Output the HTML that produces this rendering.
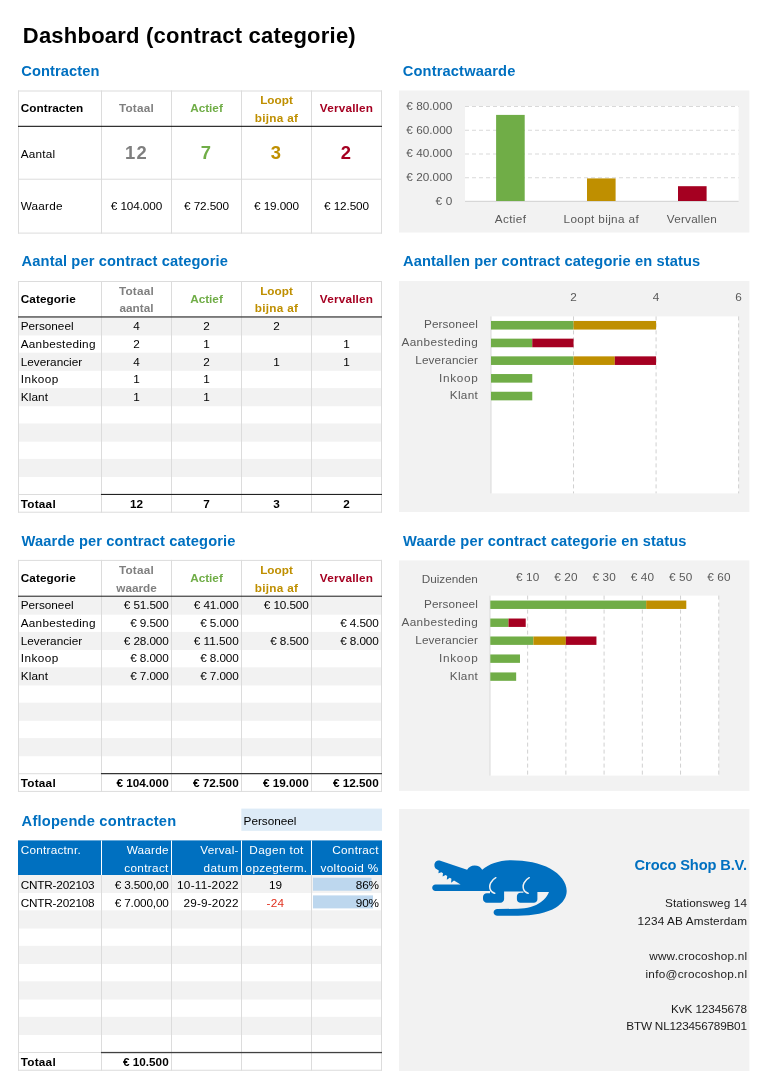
<!DOCTYPE html>
<html lang="nl"><head><meta charset="utf-8"><title>Dashboard (contract categorie)</title><style>
html,body{margin:0;padding:0;background:#fff}
body{width:768px;height:1089px;position:relative;overflow:hidden;font-family:"Liberation Sans",sans-serif}
.t{position:absolute;white-space:nowrap;margin:0;padding:0;font-weight:normal}
svg{position:absolute;left:0;top:0}
svg text{font-family:"Liberation Sans",sans-serif}
</style></head><body>
<svg width="768" height="1089" viewBox="0 0 768 1089">
<g class="grid">
<rect x="18" y="90.5" width="364" height="1" fill="#DCDCDC"/>
<rect x="18" y="178.7" width="364" height="1" fill="#DCDCDC"/>
<rect x="18" y="232.6" width="364" height="1" fill="#DCDCDC"/>
<rect x="18" y="90.5" width="1" height="143.1" fill="#DCDCDC"/>
<rect x="101" y="90.5" width="1" height="143.1" fill="#DCDCDC"/>
<rect x="171" y="90.5" width="1" height="143.1" fill="#DCDCDC"/>
<rect x="241" y="90.5" width="1" height="143.1" fill="#DCDCDC"/>
<rect x="311" y="90.5" width="1" height="143.1" fill="#DCDCDC"/>
<rect x="381" y="90.5" width="1" height="143.1" fill="#DCDCDC"/>
<rect x="18" y="125.8" width="364" height="1" fill="#000"/>
<rect x="19" y="317.3" width="362" height="18.15" fill="#F2F2F2"/>
<rect x="19" y="352.7" width="362" height="18.15" fill="#F2F2F2"/>
<rect x="19" y="388.1" width="362" height="18.15" fill="#F2F2F2"/>
<rect x="19" y="423.5" width="362" height="18.15" fill="#F2F2F2"/>
<rect x="19" y="458.9" width="362" height="18.15" fill="#F2F2F2"/>
<rect x="18" y="281" width="364" height="1" fill="#DCDCDC"/>
<rect x="18" y="511.7" width="364" height="1" fill="#DCDCDC"/>
<rect x="18" y="494" width="364" height="1" fill="#DCDCDC"/>
<rect x="18" y="281" width="1" height="231.7" fill="#DCDCDC"/>
<rect x="101" y="281" width="1" height="231.7" fill="#DCDCDC"/>
<rect x="171" y="281" width="1" height="231.7" fill="#DCDCDC"/>
<rect x="241" y="281" width="1" height="231.7" fill="#DCDCDC"/>
<rect x="311" y="281" width="1" height="231.7" fill="#DCDCDC"/>
<rect x="381" y="281" width="1" height="231.7" fill="#DCDCDC"/>
<rect x="18" y="316.3" width="364" height="1.3" fill="#404040"/>
<rect x="101" y="493.9" width="281" height="1.1" fill="#222"/>
<rect x="19" y="596.5" width="362" height="18.15" fill="#F2F2F2"/>
<rect x="19" y="631.9" width="362" height="18.15" fill="#F2F2F2"/>
<rect x="19" y="667.3" width="362" height="18.15" fill="#F2F2F2"/>
<rect x="19" y="702.7" width="362" height="18.15" fill="#F2F2F2"/>
<rect x="19" y="738.1" width="362" height="18.15" fill="#F2F2F2"/>
<rect x="18" y="559.9" width="364" height="1" fill="#DCDCDC"/>
<rect x="18" y="790.9" width="364" height="1" fill="#DCDCDC"/>
<rect x="18" y="773.2" width="364" height="1" fill="#DCDCDC"/>
<rect x="18" y="559.9" width="1" height="232" fill="#DCDCDC"/>
<rect x="101" y="559.9" width="1" height="232" fill="#DCDCDC"/>
<rect x="171" y="559.9" width="1" height="232" fill="#DCDCDC"/>
<rect x="241" y="559.9" width="1" height="232" fill="#DCDCDC"/>
<rect x="311" y="559.9" width="1" height="232" fill="#DCDCDC"/>
<rect x="381" y="559.9" width="1" height="232" fill="#DCDCDC"/>
<rect x="18" y="595.7" width="364" height="1" fill="#1a1a1a"/>
<rect x="101" y="773.1" width="281" height="1.1" fill="#222"/>
<rect x="241.3" y="808.6" width="140.7" height="22.2" fill="#DDEBF7"/>
<rect x="19" y="874.8" width="362" height="18.2" fill="#F2F2F2"/>
<rect x="19" y="910.3" width="362" height="18.2" fill="#F2F2F2"/>
<rect x="19" y="945.8" width="362" height="18.2" fill="#F2F2F2"/>
<rect x="19" y="981.3" width="362" height="18.2" fill="#F2F2F2"/>
<rect x="19" y="1016.8" width="362" height="18.2" fill="#F2F2F2"/>
<rect x="18" y="1069.75" width="364" height="1" fill="#DCDCDC"/>
<rect x="18" y="1052" width="364" height="1" fill="#DCDCDC"/>
<rect x="18" y="840.4" width="1" height="230.35" fill="#DCDCDC"/>
<rect x="101" y="840.4" width="1" height="230.35" fill="#DCDCDC"/>
<rect x="171" y="840.4" width="1" height="230.35" fill="#DCDCDC"/>
<rect x="241" y="840.4" width="1" height="230.35" fill="#DCDCDC"/>
<rect x="311" y="840.4" width="1" height="230.35" fill="#DCDCDC"/>
<rect x="381" y="840.4" width="1" height="230.35" fill="#DCDCDC"/>
<rect x="18" y="840.4" width="364" height="34.6" fill="#0070C0"/>
<rect x="101" y="840.4" width="1" height="34.6" fill="#FFFFFF"/>
<rect x="171" y="840.4" width="1" height="34.6" fill="#FFFFFF"/>
<rect x="241" y="840.4" width="1" height="34.6" fill="#FFFFFF"/>
<rect x="311" y="840.4" width="1" height="34.6" fill="#FFFFFF"/>
<rect x="101" y="1051.9" width="281" height="1.3" fill="#404040"/>
<rect x="313" y="877.7" width="58.5" height="13" fill="#BDD7EE"/>
<rect x="313" y="895.4" width="60" height="13" fill="#BDD7EE"/>
</g>
<g class="chart1">
<rect x="399" y="90.5" width="350.4" height="142" fill="#F2F2F2"/>
<rect x="465" y="106" width="273.6" height="95" fill="#fff"/>
<line x1="465" x2="738.6" y1="106.5" y2="106.5" stroke="#D9D9D9" stroke-width="1" stroke-dasharray="4 3"/>
<line x1="465" x2="738.6" y1="130.25" y2="130.25" stroke="#D9D9D9" stroke-width="1" stroke-dasharray="4 3"/>
<line x1="465" x2="738.6" y1="154" y2="154" stroke="#D9D9D9" stroke-width="1" stroke-dasharray="4 3"/>
<line x1="465" x2="738.6" y1="177.75" y2="177.75" stroke="#D9D9D9" stroke-width="1" stroke-dasharray="4 3"/>
<line x1="465" x2="738.6" y1="201.3" y2="201.3" stroke="#D0D0D0" stroke-width="1"/>
<rect x="496.1" y="114.9" width="28.6" height="86.1" fill="#70AD47"/>
<rect x="587" y="178.4" width="28.6" height="22.6" fill="#BF8F00"/>
<rect x="678" y="186.2" width="28.6" height="14.8" fill="#A50021"/>
<text x="452.3" y="109.8" text-anchor="end" font-size="11.75" fill="#595959" textLength="46.0" lengthAdjust="spacing">€ 80.000</text>
<text x="452.3" y="133.55" text-anchor="end" font-size="11.75" fill="#595959" textLength="46.0" lengthAdjust="spacing">€ 60.000</text>
<text x="452.3" y="157.3" text-anchor="end" font-size="11.75" fill="#595959" textLength="46.0" lengthAdjust="spacing">€ 40.000</text>
<text x="452.3" y="181.05" text-anchor="end" font-size="11.75" fill="#595959" textLength="46.0" lengthAdjust="spacing">€ 20.000</text>
<text x="452.3" y="204.8" text-anchor="end" font-size="11.75" fill="#595959" textLength="16.7" lengthAdjust="spacing">€ 0</text>
<text x="510.4" y="223.3" text-anchor="middle" font-size="11.75" fill="#595959" textLength="31.2" lengthAdjust="spacing">Actief</text>
<text x="601.1" y="223.3" text-anchor="middle" font-size="11.75" fill="#595959" textLength="75.1" lengthAdjust="spacing">Loopt bijna af</text>
<text x="691.8" y="223.3" text-anchor="middle" font-size="11.75" fill="#595959" textLength="50.0" lengthAdjust="spacing">Vervallen</text>
</g>
<g class="chart2">
<rect x="399" y="281" width="350.4" height="231" fill="#F2F2F2"/>
<rect x="491" y="316.4" width="247.6" height="177" fill="#fff"/>
<line x1="491" x2="491" y1="316.4" y2="493.4" stroke="#D9D9D9"/>
<line x1="573.54" x2="573.54" y1="316.4" y2="493.4" stroke="#D0D0D0" stroke-width="1" stroke-dasharray="4 3"/>
<text x="573.54" y="301.2" text-anchor="middle" font-size="11.75" fill="#595959" textLength="6.7" lengthAdjust="spacing">2</text>
<line x1="656.08" x2="656.08" y1="316.4" y2="493.4" stroke="#D0D0D0" stroke-width="1" stroke-dasharray="4 3"/>
<text x="656.08" y="301.2" text-anchor="middle" font-size="11.75" fill="#595959" textLength="6.7" lengthAdjust="spacing">4</text>
<line x1="738.62" x2="738.62" y1="316.4" y2="493.4" stroke="#D0D0D0" stroke-width="1" stroke-dasharray="4 3"/>
<text x="738.62" y="301.2" text-anchor="middle" font-size="11.75" fill="#595959" textLength="6.7" lengthAdjust="spacing">6</text>
<rect x="491" y="320.95" width="82.54" height="8.6" fill="#70AD47"/>
<rect x="573.54" y="320.95" width="82.54" height="8.6" fill="#BF8F00"/>
<text x="477.8" y="328.45" text-anchor="end" font-size="11.75" fill="#595959" textLength="53.8" lengthAdjust="spacing">Personeel</text>
<rect x="491" y="338.65" width="41.27" height="8.6" fill="#70AD47"/>
<rect x="532.27" y="338.65" width="41.27" height="8.6" fill="#A50021"/>
<text x="477.8" y="346.15" text-anchor="end" font-size="11.75" fill="#595959" textLength="76.4" lengthAdjust="spacing">Aanbesteding</text>
<rect x="491" y="356.35" width="82.54" height="8.6" fill="#70AD47"/>
<rect x="573.54" y="356.35" width="41.27" height="8.6" fill="#BF8F00"/>
<rect x="614.81" y="356.35" width="41.27" height="8.6" fill="#A50021"/>
<text x="477.8" y="363.85" text-anchor="end" font-size="11.75" fill="#595959" textLength="62.5" lengthAdjust="spacing">Leverancier</text>
<rect x="491" y="374.05" width="41.27" height="8.6" fill="#70AD47"/>
<text x="477.8" y="381.55" text-anchor="end" font-size="11.75" fill="#595959" textLength="38.7" lengthAdjust="spacing">Inkoop</text>
<rect x="491" y="391.75" width="41.27" height="8.6" fill="#70AD47"/>
<text x="477.8" y="399.25" text-anchor="end" font-size="11.75" fill="#595959" textLength="28.0" lengthAdjust="spacing">Klant</text>
</g>
<g class="chart3">
<rect x="399" y="560.4" width="350.4" height="230.5" fill="#F2F2F2"/>
<rect x="489.8" y="595.6" width="229" height="180" fill="#fff"/>
<line x1="490" x2="490" y1="595.6" y2="775.6" stroke="#D9D9D9"/>
<line x1="527.63" x2="527.63" y1="595.6" y2="775.6" stroke="#D0D0D0" stroke-width="1" stroke-dasharray="4 3"/>
<text x="527.63" y="581.2" text-anchor="middle" font-size="11.75" fill="#595959" textLength="23.3" lengthAdjust="spacing">€ 10</text>
<line x1="565.86" x2="565.86" y1="595.6" y2="775.6" stroke="#D0D0D0" stroke-width="1" stroke-dasharray="4 3"/>
<text x="565.86" y="581.2" text-anchor="middle" font-size="11.75" fill="#595959" textLength="23.3" lengthAdjust="spacing">€ 20</text>
<line x1="604.09" x2="604.09" y1="595.6" y2="775.6" stroke="#D0D0D0" stroke-width="1" stroke-dasharray="4 3"/>
<text x="604.09" y="581.2" text-anchor="middle" font-size="11.75" fill="#595959" textLength="23.3" lengthAdjust="spacing">€ 30</text>
<line x1="642.32" x2="642.32" y1="595.6" y2="775.6" stroke="#D0D0D0" stroke-width="1" stroke-dasharray="4 3"/>
<text x="642.32" y="581.2" text-anchor="middle" font-size="11.75" fill="#595959" textLength="23.3" lengthAdjust="spacing">€ 40</text>
<line x1="680.55" x2="680.55" y1="595.6" y2="775.6" stroke="#D0D0D0" stroke-width="1" stroke-dasharray="4 3"/>
<text x="680.55" y="581.2" text-anchor="middle" font-size="11.75" fill="#595959" textLength="23.3" lengthAdjust="spacing">€ 50</text>
<line x1="718.78" x2="718.78" y1="595.6" y2="775.6" stroke="#D0D0D0" stroke-width="1" stroke-dasharray="4 3"/>
<text x="718.78" y="581.2" text-anchor="middle" font-size="11.75" fill="#595959" textLength="23.3" lengthAdjust="spacing">€ 60</text>
<text x="477.8" y="582.7" text-anchor="end" font-size="11.75" fill="#595959" textLength="56.0" lengthAdjust="spacing">Duizenden</text>
<rect x="490.3" y="600.55" width="155.843" height="8.4" fill="#70AD47"/>
<rect x="646.143" y="600.55" width="40.1415" height="8.4" fill="#BF8F00"/>
<text x="477.8" y="608.35" text-anchor="end" font-size="11.75" fill="#595959" textLength="53.8" lengthAdjust="spacing">Personeel</text>
<rect x="490.3" y="618.52" width="18.215" height="8.4" fill="#70AD47"/>
<rect x="508.515" y="618.52" width="17.2035" height="8.4" fill="#A50021"/>
<text x="477.8" y="626.32" text-anchor="end" font-size="11.75" fill="#595959" textLength="76.4" lengthAdjust="spacing">Aanbesteding</text>
<rect x="490.3" y="636.49" width="43.0645" height="8.4" fill="#70AD47"/>
<rect x="533.365" y="636.49" width="32.4955" height="8.4" fill="#BF8F00"/>
<rect x="565.86" y="636.49" width="30.584" height="8.4" fill="#A50021"/>
<text x="477.8" y="644.29" text-anchor="end" font-size="11.75" fill="#595959" textLength="62.5" lengthAdjust="spacing">Leverancier</text>
<rect x="490.3" y="654.46" width="29.684" height="8.4" fill="#70AD47"/>
<text x="477.8" y="662.26" text-anchor="end" font-size="11.75" fill="#595959" textLength="38.7" lengthAdjust="spacing">Inkoop</text>
<rect x="490.3" y="672.43" width="25.861" height="8.4" fill="#70AD47"/>
<text x="477.8" y="680.23" text-anchor="end" font-size="11.75" fill="#595959" textLength="28.0" lengthAdjust="spacing">Klant</text>
</g>
<g class="company">
<rect x="399" y="809" width="350.4" height="262" fill="#F2F2F2"/>
<path d="M439.6 860.6 L467.1 869.7 C468.6 867.2 471.2 865.5 474.6 865.5 C478 865.5 480.8 867.1 482.2 869.7 C489 864 499 860.2 511 860.2 C526 860.2 540 863 550 868.5 C560 874 566.7 882 566.7 891 C566.7 897 563 903 556 907.5 C547 913 533 915.7 518 915.7 L497.4 915.7 C495.3 915.7 493.6 914.2 493.6 912.4 C493.6 910.6 495.3 909.1 497.4 909.1 L518 908.7 C527 908.4 535 906.4 541 901.9 C545 898.9 547.8 895.4 549 891.9 L537.4 891.9 L537.4 899.2 C537.4 901.2 535.8 902.8 533.8 902.8 L520.5 902.8 C518.5 902.8 516.9 901.2 516.9 899.2 L516.9 896.6 C516.9 894.3 518.5 892.7 520.5 892.7 L523.4 892.7 L523.4 891.5 L504.1 891.5 L504.1 899.1 C504.1 901.1 502.5 902.8 500.5 902.8 L486.8 902.8 C484.8 902.8 483 901.1 483 899.1 L483 896.9 C483 894.9 484.8 893.3 486.8 893.3 L490 893.3 L490 891 L435.5 891 C433.6 891 432.2 889.5 432.2 887.7 C432.2 885.9 433.6 884.4 435.5 884.4 L460.6 884.6 L454.0 880.4 L451.1 882.7 L451.4 878.7 L449.8 877.7 L446.8 879.8 L447.2 876.0 L445.6 875.0 L442.6 876.5 L443.0 873.3 L441.4 872.3 L438.4 873.2 L438.8 870.6 L436.4 869.0 C433.2 867.3 433.6 860 439.6 860.6 Z" fill="#0070C0"/>
<path d="M495.8 877.7 C491.2 880.2 488.6 885.2 490.3 889.6 C491.1 891.7 492.6 893 494.7 893.3 M529.2 877.7 C524.6 880.2 522 885.2 523.7 889.6 C524.5 891.7 526 893 528.1 893.3" fill="none" stroke="#F2F2F2" stroke-width="1.5" stroke-linecap="round"/>
<text font-weight="bold" x="747" y="870.2" text-anchor="end" font-size="14.67" fill="#0070C0" textLength="112.4" lengthAdjust="spacing">Croco Shop B.V.</text>
<text x="747" y="906.7" text-anchor="end" font-size="11.75" fill="#1a1a1a" textLength="82.0" lengthAdjust="spacing">Stationsweg 14</text>
<text x="747" y="924.6" text-anchor="end" font-size="11.75" fill="#1a1a1a" textLength="109.4" lengthAdjust="spacing">1234 AB Amsterdam</text>
<text x="747" y="960.1" text-anchor="end" font-size="11.75" fill="#1a1a1a" textLength="97.8" lengthAdjust="spacing">www.crocoshop.nl</text>
<text x="747" y="977.6" text-anchor="end" font-size="11.75" fill="#1a1a1a" textLength="101.5" lengthAdjust="spacing">info@crocoshop.nl</text>
<text x="747" y="1012.9" text-anchor="end" font-size="11.75" fill="#1a1a1a" textLength="76.0" lengthAdjust="spacing">KvK 12345678</text>
<text x="747" y="1030.4" text-anchor="end" font-size="11.75" fill="#1a1a1a" textLength="120.7" lengthAdjust="spacing">BTW NL123456789B01</text>
</g>
</svg>
<header>
<h1 class="t" style="left:22.80px;top:21.98px;font-size:22px;line-height:28px;letter-spacing:0.223px;color:#000;font-weight:bold;">Dashboard (contract categorie)</h1>
<h2 class="t" style="left:21.30px;top:61.92px;font-size:14.67px;line-height:18px;letter-spacing:0.076px;color:#0070C0;font-weight:bold;">Contracten</h2>
<h2 class="t" style="left:402.80px;top:61.92px;font-size:14.67px;line-height:18px;letter-spacing:0.135px;color:#0070C0;font-weight:bold;">Contractwaarde</h2>
<h2 class="t" style="left:21.60px;top:251.92px;font-size:14.67px;line-height:18px;letter-spacing:0.124px;color:#0070C0;font-weight:bold;">Aantal per contract categorie</h2>
<h2 class="t" style="left:403.00px;top:251.92px;font-size:14.67px;line-height:18px;letter-spacing:0.118px;color:#0070C0;font-weight:bold;">Aantallen per contract categorie en status</h2>
<h2 class="t" style="left:21.60px;top:531.92px;font-size:14.67px;line-height:18px;letter-spacing:0.123px;color:#0070C0;font-weight:bold;">Waarde per contract categorie</h2>
<h2 class="t" style="left:403.00px;top:531.92px;font-size:14.67px;line-height:18px;letter-spacing:0.122px;color:#0070C0;font-weight:bold;">Waarde per contract categorie en status</h2>
<h2 class="t" style="left:21.60px;top:811.52px;font-size:14.67px;line-height:18px;letter-spacing:0.205px;color:#0070C0;font-weight:bold;">Aflopende contracten</h2>
</header>
<section class="summary">
<div class="t" style="left:20.70px;top:100.38px;font-size:11.75px;line-height:15px;letter-spacing:0.048px;color:#000;font-weight:bold;">Contracten</div>
<div class="t" style="left:118.90px;top:100.38px;font-size:11.75px;line-height:15px;letter-spacing:0.245px;color:#7F7F7F;font-weight:bold;">Totaal</div>
<div class="t" style="left:190.18px;top:100.38px;font-size:11.75px;line-height:15px;letter-spacing:0.000px;color:#70AD47;font-weight:bold;">Actief</div>
<div class="t" style="left:260.19px;top:92.18px;font-size:11.75px;line-height:15px;letter-spacing:0.000px;color:#BF8F00;font-weight:bold;">Loopt</div>
<div class="t" style="left:254.80px;top:109.68px;font-size:11.75px;line-height:15px;letter-spacing:0.284px;color:#BF8F00;font-weight:bold;">bijna af</div>
<div class="t" style="left:319.80px;top:100.38px;font-size:11.75px;line-height:15px;letter-spacing:0.199px;color:#A50021;font-weight:bold;">Vervallen</div>
<div class="t" style="left:20.70px;top:145.58px;font-size:11.75px;line-height:15px;letter-spacing:0.207px;color:#000;">Aantal</div>
<div class="t" style="left:125.10px;top:140.92px;font-size:18.4px;line-height:23px;letter-spacing:1.166px;color:#7F7F7F;font-weight:bold;">12</div>
<div class="t" style="left:200.80px;top:140.92px;font-size:18.4px;line-height:23px;letter-spacing:1.166px;color:#70AD47;font-weight:bold;">7</div>
<div class="t" style="left:270.80px;top:140.92px;font-size:18.4px;line-height:23px;letter-spacing:1.166px;color:#BF8F00;font-weight:bold;">3</div>
<div class="t" style="left:340.80px;top:140.92px;font-size:18.4px;line-height:23px;letter-spacing:1.166px;color:#A50021;font-weight:bold;">2</div>
<div class="t" style="left:20.70px;top:198.28px;font-size:11.75px;line-height:15px;letter-spacing:0.204px;color:#000;">Waarde</div>
<div class="t" style="left:110.81px;top:198.28px;font-size:11.75px;line-height:15px;letter-spacing:-0.099px;color:#000;">€ 104.000</div>
<div class="t" style="left:184.06px;top:198.28px;font-size:11.75px;line-height:15px;letter-spacing:-0.106px;color:#000;">€ 72.500</div>
<div class="t" style="left:254.06px;top:198.28px;font-size:11.75px;line-height:15px;letter-spacing:-0.106px;color:#000;">€ 19.000</div>
<div class="t" style="left:324.06px;top:198.28px;font-size:11.75px;line-height:15px;letter-spacing:-0.106px;color:#000;">€ 12.500</div>
</section>
<section class="count-per-category">
<div class="t" style="left:20.70px;top:290.68px;font-size:11.75px;line-height:15px;letter-spacing:0.100px;color:#000;font-weight:bold;">Categorie</div>
<div class="t" style="left:118.90px;top:282.78px;font-size:11.75px;line-height:15px;letter-spacing:0.245px;color:#7F7F7F;font-weight:bold;">Totaal</div>
<div class="t" style="left:119.52px;top:300.48px;font-size:11.75px;line-height:15px;letter-spacing:0.000px;color:#7F7F7F;font-weight:bold;">aantal</div>
<div class="t" style="left:190.18px;top:290.68px;font-size:11.75px;line-height:15px;letter-spacing:0.000px;color:#70AD47;font-weight:bold;">Actief</div>
<div class="t" style="left:260.19px;top:282.78px;font-size:11.75px;line-height:15px;letter-spacing:0.000px;color:#BF8F00;font-weight:bold;">Loopt</div>
<div class="t" style="left:254.80px;top:300.48px;font-size:11.75px;line-height:15px;letter-spacing:0.284px;color:#BF8F00;font-weight:bold;">bijna af</div>
<div class="t" style="left:319.80px;top:290.68px;font-size:11.75px;line-height:15px;letter-spacing:0.199px;color:#A50021;font-weight:bold;">Vervallen</div>
<div class="t" style="left:20.70px;top:318.28px;font-size:11.75px;line-height:15px;letter-spacing:-0.009px;color:#000;">Personeel</div>
<div class="t" style="left:133.25px;top:318.28px;font-size:11.75px;line-height:15px;letter-spacing:-0.039px;color:#000;">4</div>
<div class="t" style="left:203.25px;top:318.28px;font-size:11.75px;line-height:15px;letter-spacing:-0.039px;color:#000;">2</div>
<div class="t" style="left:273.25px;top:318.28px;font-size:11.75px;line-height:15px;letter-spacing:-0.039px;color:#000;">2</div>
<div class="t" style="left:20.70px;top:335.98px;font-size:11.75px;line-height:15px;letter-spacing:0.264px;color:#000;">Aanbesteding</div>
<div class="t" style="left:133.25px;top:335.98px;font-size:11.75px;line-height:15px;letter-spacing:-0.039px;color:#000;">2</div>
<div class="t" style="left:203.25px;top:335.98px;font-size:11.75px;line-height:15px;letter-spacing:-0.039px;color:#000;">1</div>
<div class="t" style="left:343.25px;top:335.98px;font-size:11.75px;line-height:15px;letter-spacing:-0.039px;color:#000;">1</div>
<div class="t" style="left:20.70px;top:353.68px;font-size:11.75px;line-height:15px;letter-spacing:0.002px;color:#000;">Leverancier</div>
<div class="t" style="left:133.25px;top:353.68px;font-size:11.75px;line-height:15px;letter-spacing:-0.039px;color:#000;">4</div>
<div class="t" style="left:203.25px;top:353.68px;font-size:11.75px;line-height:15px;letter-spacing:-0.039px;color:#000;">2</div>
<div class="t" style="left:273.25px;top:353.68px;font-size:11.75px;line-height:15px;letter-spacing:-0.039px;color:#000;">1</div>
<div class="t" style="left:343.25px;top:353.68px;font-size:11.75px;line-height:15px;letter-spacing:-0.039px;color:#000;">1</div>
<div class="t" style="left:20.70px;top:371.38px;font-size:11.75px;line-height:15px;letter-spacing:0.452px;color:#000;">Inkoop</div>
<div class="t" style="left:133.25px;top:371.38px;font-size:11.75px;line-height:15px;letter-spacing:-0.039px;color:#000;">1</div>
<div class="t" style="left:203.25px;top:371.38px;font-size:11.75px;line-height:15px;letter-spacing:-0.039px;color:#000;">1</div>
<div class="t" style="left:20.70px;top:389.08px;font-size:11.75px;line-height:15px;letter-spacing:0.144px;color:#000;">Klant</div>
<div class="t" style="left:133.25px;top:389.08px;font-size:11.75px;line-height:15px;letter-spacing:-0.039px;color:#000;">1</div>
<div class="t" style="left:203.25px;top:389.08px;font-size:11.75px;line-height:15px;letter-spacing:-0.039px;color:#000;">1</div>
<div class="t" style="left:20.70px;top:495.68px;font-size:11.75px;line-height:15px;letter-spacing:0.245px;color:#000;font-weight:bold;">Totaal</div>
<div class="t" style="left:129.96px;top:495.68px;font-size:11.75px;line-height:15px;letter-spacing:0.000px;color:#000;font-weight:bold;">12</div>
<div class="t" style="left:203.23px;top:495.68px;font-size:11.75px;line-height:15px;letter-spacing:0.000px;color:#000;font-weight:bold;">7</div>
<div class="t" style="left:273.23px;top:495.68px;font-size:11.75px;line-height:15px;letter-spacing:0.000px;color:#000;font-weight:bold;">3</div>
<div class="t" style="left:343.23px;top:495.68px;font-size:11.75px;line-height:15px;letter-spacing:0.000px;color:#000;font-weight:bold;">2</div>
</section>
<section class="value-per-category">
<div class="t" style="left:20.70px;top:569.88px;font-size:11.75px;line-height:15px;letter-spacing:0.100px;color:#000;font-weight:bold;">Categorie</div>
<div class="t" style="left:118.90px;top:561.98px;font-size:11.75px;line-height:15px;letter-spacing:0.245px;color:#7F7F7F;font-weight:bold;">Totaal</div>
<div class="t" style="left:116.25px;top:579.68px;font-size:11.75px;line-height:15px;letter-spacing:0.000px;color:#7F7F7F;font-weight:bold;">waarde</div>
<div class="t" style="left:190.18px;top:569.88px;font-size:11.75px;line-height:15px;letter-spacing:0.000px;color:#70AD47;font-weight:bold;">Actief</div>
<div class="t" style="left:260.19px;top:561.98px;font-size:11.75px;line-height:15px;letter-spacing:0.000px;color:#BF8F00;font-weight:bold;">Loopt</div>
<div class="t" style="left:254.80px;top:579.68px;font-size:11.75px;line-height:15px;letter-spacing:0.284px;color:#BF8F00;font-weight:bold;">bijna af</div>
<div class="t" style="left:319.80px;top:569.88px;font-size:11.75px;line-height:15px;letter-spacing:0.199px;color:#A50021;font-weight:bold;">Vervallen</div>
<div class="t" style="left:20.70px;top:597.18px;font-size:11.75px;line-height:15px;letter-spacing:-0.009px;color:#000;">Personeel</div>
<div class="t" style="left:123.81px;top:597.18px;font-size:11.75px;line-height:15px;letter-spacing:-0.106px;color:#000;">€ 51.500</div>
<div class="t" style="left:193.81px;top:597.18px;font-size:11.75px;line-height:15px;letter-spacing:-0.106px;color:#000;">€ 41.000</div>
<div class="t" style="left:263.81px;top:597.18px;font-size:11.75px;line-height:15px;letter-spacing:-0.106px;color:#000;">€ 10.500</div>
<div class="t" style="left:20.70px;top:614.88px;font-size:11.75px;line-height:15px;letter-spacing:0.264px;color:#000;">Aanbesteding</div>
<div class="t" style="left:130.31px;top:614.88px;font-size:11.75px;line-height:15px;letter-spacing:-0.116px;color:#000;">€ 9.500</div>
<div class="t" style="left:200.31px;top:614.88px;font-size:11.75px;line-height:15px;letter-spacing:-0.116px;color:#000;">€ 5.000</div>
<div class="t" style="left:340.31px;top:614.88px;font-size:11.75px;line-height:15px;letter-spacing:-0.116px;color:#000;">€ 4.500</div>
<div class="t" style="left:20.70px;top:632.58px;font-size:11.75px;line-height:15px;letter-spacing:0.002px;color:#000;">Leverancier</div>
<div class="t" style="left:123.81px;top:632.58px;font-size:11.75px;line-height:15px;letter-spacing:-0.106px;color:#000;">€ 28.000</div>
<div class="t" style="left:193.81px;top:632.58px;font-size:11.75px;line-height:15px;letter-spacing:0.003px;color:#000;">€ 11.500</div>
<div class="t" style="left:270.31px;top:632.58px;font-size:11.75px;line-height:15px;letter-spacing:-0.116px;color:#000;">€ 8.500</div>
<div class="t" style="left:340.31px;top:632.58px;font-size:11.75px;line-height:15px;letter-spacing:-0.116px;color:#000;">€ 8.000</div>
<div class="t" style="left:20.70px;top:650.28px;font-size:11.75px;line-height:15px;letter-spacing:0.452px;color:#000;">Inkoop</div>
<div class="t" style="left:130.31px;top:650.28px;font-size:11.75px;line-height:15px;letter-spacing:-0.116px;color:#000;">€ 8.000</div>
<div class="t" style="left:200.31px;top:650.28px;font-size:11.75px;line-height:15px;letter-spacing:-0.116px;color:#000;">€ 8.000</div>
<div class="t" style="left:20.70px;top:667.98px;font-size:11.75px;line-height:15px;letter-spacing:0.144px;color:#000;">Klant</div>
<div class="t" style="left:130.31px;top:667.98px;font-size:11.75px;line-height:15px;letter-spacing:-0.116px;color:#000;">€ 7.000</div>
<div class="t" style="left:200.31px;top:667.98px;font-size:11.75px;line-height:15px;letter-spacing:-0.116px;color:#000;">€ 7.000</div>
<div class="t" style="left:20.70px;top:774.88px;font-size:11.75px;line-height:15px;letter-spacing:0.245px;color:#000;font-weight:bold;">Totaal</div>
<div class="t" style="left:116.43px;top:774.88px;font-size:11.75px;line-height:15px;letter-spacing:0.000px;color:#000;font-weight:bold;">€ 104.000</div>
<div class="t" style="left:192.96px;top:774.88px;font-size:11.75px;line-height:15px;letter-spacing:0.000px;color:#000;font-weight:bold;">€ 72.500</div>
<div class="t" style="left:262.96px;top:774.88px;font-size:11.75px;line-height:15px;letter-spacing:0.000px;color:#000;font-weight:bold;">€ 19.000</div>
<div class="t" style="left:332.96px;top:774.88px;font-size:11.75px;line-height:15px;letter-spacing:0.000px;color:#000;font-weight:bold;">€ 12.500</div>
</section>
<section class="expiring">
<div class="t" style="left:243.60px;top:812.58px;font-size:11.75px;line-height:15px;letter-spacing:-0.009px;color:#000;">Personeel</div>
<div class="t" style="left:20.70px;top:841.98px;font-size:11.75px;line-height:15px;letter-spacing:0.253px;color:#fff;">Contractnr.</div>
<div class="t" style="left:126.77px;top:841.98px;font-size:11.75px;line-height:15px;letter-spacing:0.204px;color:#fff;">Waarde</div>
<div class="t" style="left:124.29px;top:859.98px;font-size:11.75px;line-height:15px;letter-spacing:0.326px;color:#fff;">contract</div>
<div class="t" style="left:200.31px;top:841.98px;font-size:11.75px;line-height:15px;letter-spacing:0.260px;color:#fff;">Verval-</div>
<div class="t" style="left:203.47px;top:859.98px;font-size:11.75px;line-height:15px;letter-spacing:0.515px;color:#fff;">datum</div>
<div class="t" style="left:249.29px;top:841.98px;font-size:11.75px;line-height:15px;letter-spacing:0.385px;color:#fff;">Dagen tot</div>
<div class="t" style="left:245.58px;top:859.98px;font-size:11.75px;line-height:15px;letter-spacing:0.305px;color:#fff;">opzegterm.</div>
<div class="t" style="left:332.36px;top:841.98px;font-size:11.75px;line-height:15px;letter-spacing:0.242px;color:#fff;">Contract</div>
<div class="t" style="left:320.39px;top:859.98px;font-size:11.75px;line-height:15px;letter-spacing:0.410px;color:#fff;">voltooid %</div>
<div class="t" style="left:20.70px;top:876.78px;font-size:11.75px;line-height:15px;letter-spacing:-0.179px;color:#000;">CNTR-202103</div>
<div class="t" style="left:114.70px;top:876.78px;font-size:11.75px;line-height:15px;letter-spacing:-0.154px;color:#000;">€ 3.500,00</div>
<div class="t" style="left:177.10px;top:876.78px;font-size:11.75px;line-height:15px;letter-spacing:0.237px;color:#000;">10-11-2022</div>
<div class="t" style="left:269.00px;top:876.78px;font-size:11.75px;line-height:15px;letter-spacing:-0.039px;color:#000;">19</div>
<div class="t" style="left:355.84px;top:876.78px;font-size:11.75px;line-height:15px;letter-spacing:-0.220px;color:#000;">86%</div>
<div class="t" style="left:20.70px;top:894.68px;font-size:11.75px;line-height:15px;letter-spacing:-0.179px;color:#000;">CNTR-202108</div>
<div class="t" style="left:114.70px;top:894.68px;font-size:11.75px;line-height:15px;letter-spacing:-0.154px;color:#000;">€ 7.000,00</div>
<div class="t" style="left:183.59px;top:894.68px;font-size:11.75px;line-height:15px;letter-spacing:0.171px;color:#000;">29-9-2022</div>
<div class="t" style="left:266.59px;top:894.68px;font-size:11.75px;line-height:15px;letter-spacing:0.276px;color:#E0301E;">-24</div>
<div class="t" style="left:355.84px;top:894.68px;font-size:11.75px;line-height:15px;letter-spacing:-0.220px;color:#000;">90%</div>
<div class="t" style="left:20.70px;top:1054.18px;font-size:11.75px;line-height:15px;letter-spacing:0.245px;color:#000;font-weight:bold;">Totaal</div>
<div class="t" style="left:122.96px;top:1054.18px;font-size:11.75px;line-height:15px;letter-spacing:0.000px;color:#000;font-weight:bold;">€ 10.500</div>
</section>
</body></html>
